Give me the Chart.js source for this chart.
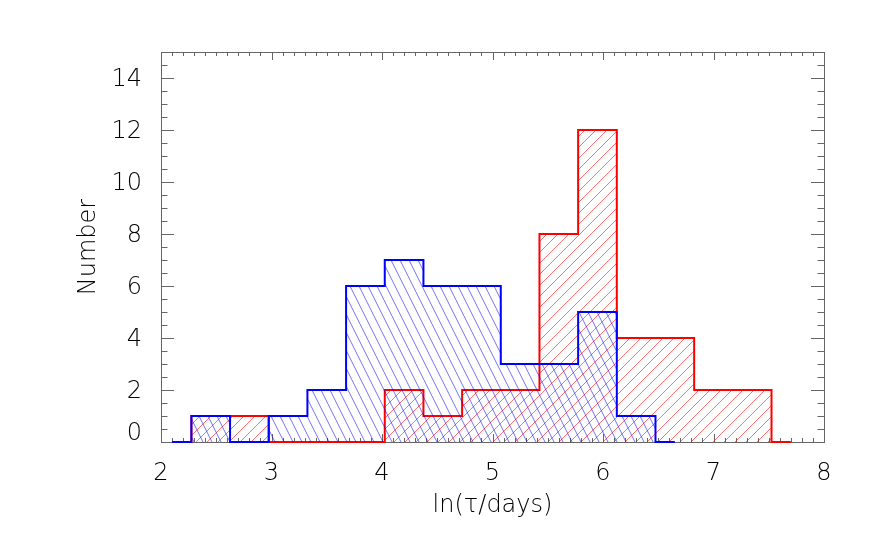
<!DOCTYPE html>
<html>
<head>
<meta charset="utf-8">
<script src="https://cdn.jsdelivr.net/npm/chart.js@4/dist/chart.umd.min.js"></script>
<style>
  html, body { margin: 0; padding: 0; background: #fff; }
  #wrap { width: 872px; height: 545px; }
</style>
</head>
<body>
<div id="wrap"><canvas id="c" width="872" height="545"></canvas></div>
<script>
// ---- data ----
const binEdges = [2.275, 2.625, 2.975, 3.325, 3.675, 4.025, 4.375, 4.725, 5.075, 5.425, 5.775, 6.125, 6.475, 6.825, 7.175, 7.525];
const blueCounts = [1, 0, 1, 2, 6, 7, 6, 6, 3, 3, 5, 1];
const redCounts  = [1, 1, 0, 0, 0, 2, 1, 2, 2, 8, 12, 4, 4, 2, 2];
const xTickValues = [2, 3, 4, 5, 6, 7, 8];
const yTickLabels = [0, 2, 4, 6, 8, 10, 12, 14];

const FONT = "'DejaVu Sans', 'Liberation Sans', sans-serif";

function histPoints(counts) {
  const half = (binEdges[1] - binEdges[0]) / 2;
  const pts = [{ x: binEdges[0] - half, y: 0 }];
  counts.forEach((c, i) => pts.push({ x: binEdges[i], y: c }));
  const end = binEdges[counts.length];
  pts.push({ x: end, y: 0 });
  pts.push({ x: end + half, y: 0 });
  return pts;
}

function makeHatch(w, h, color, lines) {
  const cv = document.createElement('canvas');
  cv.width = w; cv.height = h;
  const g = cv.getContext('2d');
  g.strokeStyle = color;
  g.lineWidth = 1;
  lines.forEach(l => {
    g.beginPath();
    g.moveTo(l[0], l[1]);
    g.lineTo(l[2], l[3]);
    g.stroke();
  });
  return g.createPattern(cv, 'repeat');
}

const ctx = document.getElementById('c').getContext('2d');
const blueHatch = makeHatch(9, 18, 'rgba(0,0,255,0.55)', [[-9, 0, 0, 18], [0, 0, 9, 18], [9, 0, 18, 18]]);
const redHatch = makeHatch(11, 11, 'rgba(255,0,0,0.55)', [[-11, 11, 0, 0], [0, 11, 11, 0], [11, 11, 22, 0]]);

const frameTicks = {
  id: 'frameTicks',
  beforeDatasetsDraw(chart) {
    const { ctx, chartArea: a, scales: { x, y } } = chart;
    ctx.save();
    ctx.strokeStyle = '#666';
    ctx.lineWidth = 1;
    ctx.strokeRect(Math.round(a.left) + 0.5, Math.round(a.top) + 0.5,
                   Math.round(a.right - a.left), Math.round(a.bottom - a.top));
    ctx.beginPath();
    // x ticks (major + minor every 0.1)
    for (let i = 20; i <= 80; i++) {
      const v = i / 10;
      const px = Math.round(x.getPixelForValue(v)) + 0.5;
      const len = (i % 10 === 0) ? 8 : 4;
      ctx.moveTo(px, a.bottom); ctx.lineTo(px, a.bottom - len);
      ctx.moveTo(px, a.top); ctx.lineTo(px, a.top + len);
    }
    // y ticks (major every 2, minor every 0.5)
    for (let i = 0; i <= 30; i++) {
      const v = i / 2;
      const py = Math.round(y.getPixelForValue(v)) + 0.5;
      const len = (i % 4 === 0) ? 13 : 6.5;
      ctx.moveTo(a.left, py); ctx.lineTo(a.left + len, py);
      ctx.moveTo(a.right, py); ctx.lineTo(a.right - len, py);
    }
    ctx.stroke();
    // y tick labels
    ctx.fillStyle = '#000';
    ctx.font = '200 24px ' + FONT;
    ctx.textAlign = 'right';
    ctx.textBaseline = 'middle';
    yTickLabels.forEach(v => {
      const py = y.getPixelForValue(v) + (v === 0 ? -8 : 2);
      ctx.fillText(String(v), 142, py);
    });
    ctx.restore();
  }
};

new Chart(ctx, {
  type: 'line',
  data: {
    datasets: [
      {
        label: 'blue',
        data: histPoints(blueCounts),
        stepped: true,
        borderColor: '#0000ff',
        borderWidth: 2,
        backgroundColor: blueHatch,
        fill: 'origin',
        pointRadius: 0,
        clip: false,
        order: 0
      },
      {
        label: 'red',
        data: histPoints(redCounts),
        stepped: true,
        borderColor: '#ff0000',
        borderWidth: 2,
        backgroundColor: redHatch,
        fill: 'origin',
        pointRadius: 0,
        clip: false,
        order: 1
      }
    ]
  },
  options: {
    responsive: false,
    animation: false,
    layout: { padding: { left: 0, right: 48, top: 52, bottom: 0 } },
    plugins: { legend: { display: false }, tooltip: { enabled: false } },
    scales: {
      x: {
        type: 'linear',
        min: 2, max: 8,
        afterBuildTicks: s => { s.ticks = xTickValues.map(v => ({ value: v })); },
        ticks: { font: { family: FONT, size: 24, weight: '200' }, color: '#000', padding: 17, maxRotation: 0 },
        grid: { display: false, drawTicks: false },
        border: { display: false },
        title: { display: true, text: 'ln(τ/days)', font: { family: FONT, size: 24, weight: '200' }, color: '#000', padding: { top: 0, bottom: 25 } },
        afterFit: s => { s.height = 103; }
      },
      y: {
        type: 'linear',
        min: 0, max: 15,
        ticks: { display: false },
        grid: { display: false, drawTicks: false },
        border: { display: false },
        title: { display: true, text: 'Number', font: { family: FONT, size: 24, weight: '200' }, color: '#000', padding: { top: 74, bottom: 0 } },
        afterFit: s => { s.width = 161; }
      }
    }
  },
  plugins: [frameTicks]
});
</script>
</body>
</html>
